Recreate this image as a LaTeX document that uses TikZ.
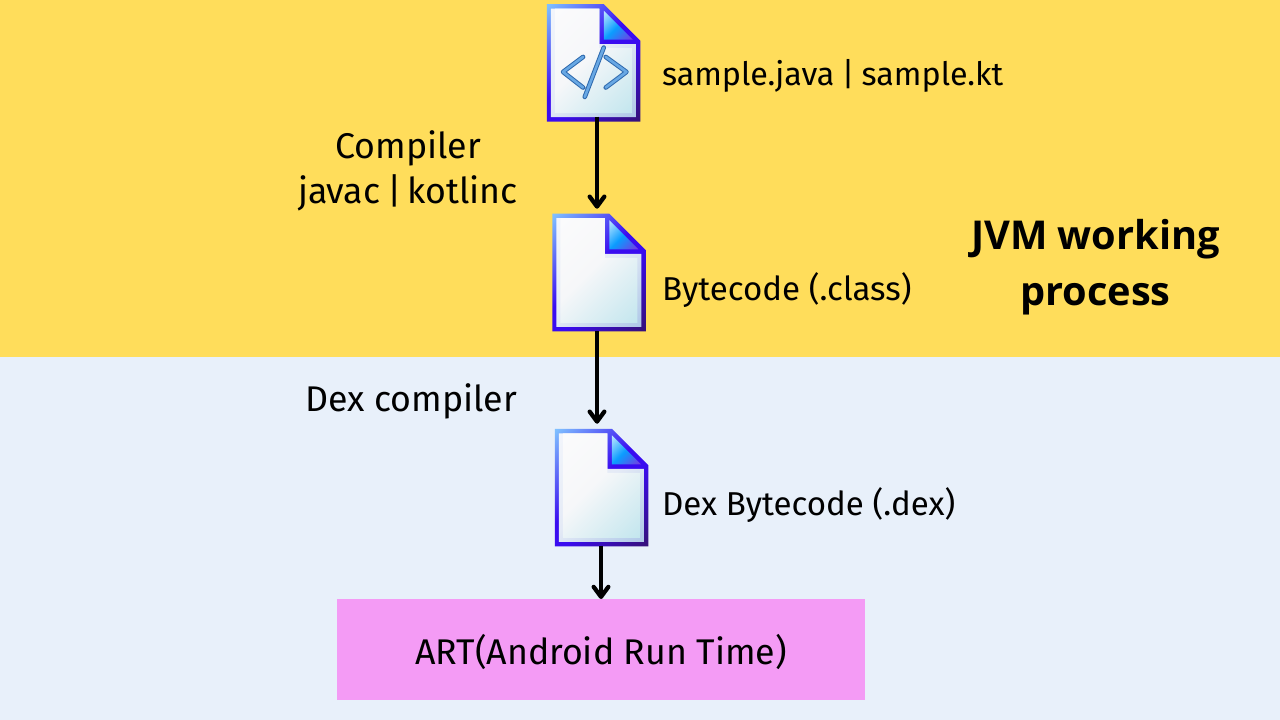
\documentclass[tikz,border=0pt]{standalone}
\usepackage{fontspec}
\setmainfont{Fira Sans}
\newfontfamily\ttlfont{Open Sans}
\usetikzlibrary{arrows.meta}
\definecolor{bgyellow}{HTML}{FFDD5B}
\definecolor{bgblue}{HTML}{E8F0FA}
\definecolor{artpink}{HTML}{F49BF5}
\definecolor{bordA}{HTML}{7FC0FF}
\definecolor{bordB}{HTML}{3A0CF0}
\definecolor{bordC}{HTML}{361078}
\definecolor{rimA}{HTML}{F2F5FB}
\definecolor{rimM}{HTML}{E4EAF6}
\definecolor{rimB}{HTML}{AFC8E8}
\definecolor{pageA}{HTML}{FBFBFC}
\definecolor{pageB}{HTML}{F6F7F9}
\definecolor{pageC}{HTML}{C3E6EE}
\definecolor{foldA}{HTML}{C0E8FF}
\definecolor{foldB}{HTML}{0A9CFF}
\definecolor{foldC}{HTML}{7A38E0}
\definecolor{glyphD}{HTML}{2F6AAE}
\definecolor{glyphL}{HTML}{68A8E4}
\pgfdeclareverticalshading{bordShade}{100bp}{color(0bp)=(bordC); color(15bp)=(bordC); color(43bp)=(bordB); color(53.5bp)=(bordB); color(85bp)=(bordA); color(100bp)=(bordA)}
\pgfdeclareverticalshading{rimShade}{100bp}{color(0bp)=(rimB); color(15bp)=(rimB); color(50bp)=(rimM); color(85bp)=(rimA); color(100bp)=(rimA)}
\pgfdeclareverticalshading{pageShade}{100bp}{color(0bp)=(pageC); color(15bp)=(pageC); color(53.5bp)=(pageB); color(85bp)=(pageA); color(100bp)=(pageA)}
\pgfdeclareverticalshading{foldShade}{100bp}{color(0bp)=(foldC); color(15bp)=(foldC); color(50bp)=(foldB); color(85bp)=(foldA); color(100bp)=(foldA)}
\newcommand{\px}{0.75pt}
\newcommand{\tightbar}[1]{\kern-#1 \ |\ \kern-#1 }
\tikzset{
  x=0.75pt,y=-0.75pt,
  lbl/.style={font=\fontsize{24.8pt}{33pt}\selectfont,text=black,inner sep=0pt,outer sep=0pt},
  lblsmall/.style={font=\fontsize{24.2pt}{33pt}\selectfont,text=black,inner sep=0pt,outer sep=0pt},
  lblbig/.style={font=\fontsize{26.8pt}{33pt}\selectfont,text=black,inner sep=0pt,outer sep=0pt},
  ttl/.style={font=\ttlfont\fontsize{29.8pt}{42pt}\selectfont\bfseries,text=black,inner sep=0pt,outer sep=0pt,align=center},
  iconbox/.style={rectangle,inner sep=0pt,outer sep=0pt,minimum width=93.5*\px,minimum height=117.5*\px},
  arr/.style={draw=black,line width=4*\px,-{Straight Barb[length=7.5pt,width=11pt,round,line width=3.2pt]}},
  fileicon/.pic={
    \shade[shading=bordShade,shading angle=45]
      (0,0)--(57,0)--(93.5,36.5)--(93.5,117.5)--(0,117.5)--cycle;
    \shade[shading=rimShade,shading angle=45]
      (4,4.5)--(52.5,4.5)--(52.5,40)--(89,40)--(89,113)--(4,113)--cycle;
    \shade[shading=pageShade,shading angle=45]
      (8,4.5)--(52.5,4.5)--(52.5,44)--(85,44)--(85,109)--(8,109)--cycle;
    \shade[shading=foldShade,shading angle=45]
      (57,6.5)--(57,35.5)--(86,35.5)--cycle;
  },
  codeglyph/.pic={
    \foreach \c/\w in {glyphD/4.6,glyphL/2.6}{
      \draw[\c,line width=\w*\px,line cap=round,line join=round]
        (36.3,52.7)--(16.3,67.7)--(36.3,83.3)
        (59,52.7)--(79.7,67.7)--(59,83.3)
        (57,43.3)--(38,92.7);
    }
  }
}
\begin{document}
\begin{tikzpicture}
\useasboundingbox (0,0) rectangle (1280,720);
\fill[bgyellow] (0,0) rectangle (1280,357);
\fill[bgblue] (0,357) rectangle (1280,720);

\node[rectangle,fill=artpink,minimum width=528*\px,minimum height=101*\px,inner sep=0pt,outer sep=0pt,
      lblbig] (art) at (601,649.5) {\raisebox{-11.5pt}[0pt][0pt]{ART(Android Run Time)}};

\node[iconbox] (f1) at (593.5,63) {};
\node[iconbox] (f2) at (599,272.5) {};
\node[iconbox] (f3) at (601.5,487.5) {};
\pic at (f1.north west) {fileicon};
\pic at (f1.north west) {codeglyph};
\pic at (f2.north west) {fileicon};
\pic at (f3.north west) {fileicon};

\draw[arr] ([xshift=2.625pt,yshift=3.75pt]f1.south) -- ([xshift=-1.5pt,yshift=3.75pt]f2.north);
\draw[arr] ([xshift=-1.5pt]f2.south) -- ([xshift=-3.375pt,yshift=3.75pt]f3.north);
\draw[arr] ([xshift=-0.375pt]f3.south) -- (art.north);

\node[lblsmall,anchor=west] (t1) at (662,76) {sample.java\tightbar{1.1pt}sample.kt};
\node[lbl,anchor=west] (t2) at (662,290.5) {Bytecode (.class)};
\node[lbl,anchor=west] (t3) at (662,505.5) {Dex Bytecode (.dex)};
\node[lblbig,align=center] (t4) at (408,170.5) {Compiler\\[0.6pt]javac\tightbar{2.2pt}kotlinc};
\node[lblbig] (t5) at (411,401) {Dex compiler};
\node[ttl] (t6) at (1095.5,267.5) {JVM working\\process};
\end{tikzpicture}
\end{document}
